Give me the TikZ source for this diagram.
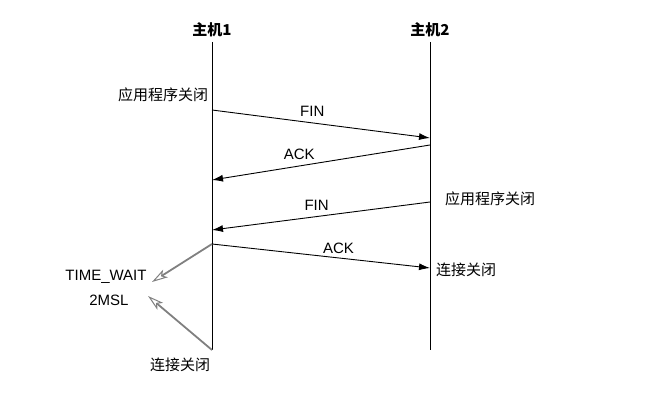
\documentclass[tikz,border=0pt]{standalone}
\usepackage{fontspec}
\setmainfont{Liberation Sans}
\newfontfamily\cjk{Noto Sans CJK SC}
\usetikzlibrary{arrows.meta}
\begin{document}
\begin{tikzpicture}[x=1pt,y=-1pt,
  lbl/.style={font=\cjk\fontsize{15}{17}\selectfont,inner sep=1pt},
  ltxt/.style={font=\fontsize{15}{17}\selectfont,inner sep=1pt},
  msg/.style={-{Latex[length=11pt,width=7pt]},line width=0.9pt},
  hol/.style={-{Stealth[length=16pt,width=9pt,inset=4pt,fill=white,line width=1pt]},draw=gray,line width=1.8pt}]
\useasboundingbox (0,0) rectangle (660,401);
\node[lbl,font=\cjk\bfseries\fontsize{15}{17}\selectfont] (h1) at (212,30) {主机1};
\node[lbl,font=\cjk\bfseries\fontsize{15}{17}\selectfont] (h2) at (430,30) {主机2};
\coordinate (t1) at (212,42); \coordinate (b1) at (212,350);
\coordinate (t2) at (430,42); \coordinate (b2) at (430,350);
\draw[line width=0.7pt] (t1) -- (b1);
\draw[line width=0.7pt] (t2) -- (b2);
\coordinate (a1) at (212,110); \coordinate (a2) at (430,138);
\coordinate (c1) at (430,145); \coordinate (c2) at (212,180);
\coordinate (d1) at (430,202); \coordinate (d2) at (212,230);
\coordinate (e1) at (212,244); \coordinate (e2) at (430,268);
\draw[msg] (a1) -- (a2) node[ltxt,pos=0.46,above=5pt] {FIN};
\draw[msg] (c1) -- (c2) node[ltxt,pos=0.6,above=5pt] {ACK};
\draw[msg] (d1) -- (d2) node[ltxt,pos=0.52,above=5pt] {FIN};
\draw[msg] (e1) -- (e2) node[ltxt,pos=0.58,above=3pt] {ACK};
\node[lbl] (app1) at (163,95) {应用程序关闭};
\node[lbl] (app2) at (490,199) {应用程序关闭};
\node[lbl] (cl2) at (466,270) {连接关闭};
\node[ltxt] (tw) at (106,277) {TIME\_WAIT};
\node[ltxt] (msl) at (109,300) {2MSL};
\node[lbl] (cl1) at (180,365) {连接关闭};
\coordinate (w1) at (152,282); \coordinate (w2) at (148,296);
\draw[hol] (e1) -- (w1);
\draw[hol] (b1) -- (w2);
\end{tikzpicture}
\end{document}
